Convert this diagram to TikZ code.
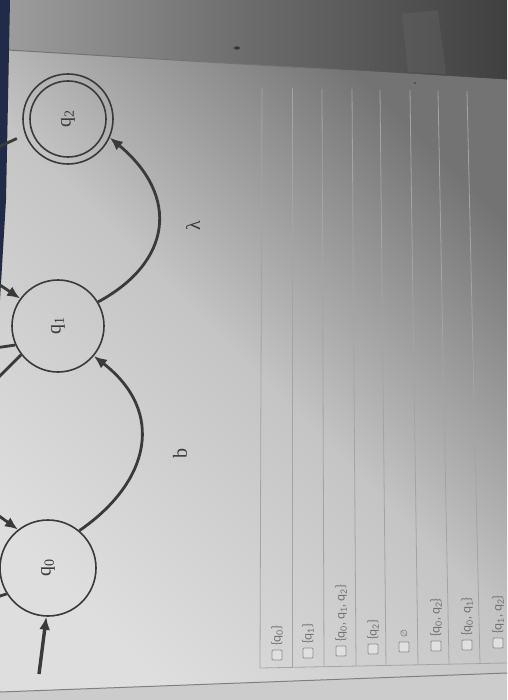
\documentclass[tikz,border=0pt]{standalone}
\usepackage{fontspec}
\setmainfont{Liberation Serif}
\newfontfamily\optfont{Lato}
\newfontfamily\symfont{DejaVu Sans}
\usetikzlibrary{arrows.meta}
\definecolor{ink}{HTML}{3A3A3A}
\definecolor{stripblue}{HTML}{1F2B48}
\definecolor{sepc}{HTML}{A4A4A4}
\definecolor{optc}{HTML}{727272}
\definecolor{boxc}{HTML}{8E8E8E}
\tikzset{
  state/.style={circle, draw=ink, line width=1.6pt, inner sep=0pt, font=\fontsize{20}{22}\selectfont, text=ink},
  edge/.style={draw=ink, line width=2.8pt},
  arr/.style={-{Latex[length=13pt,width=11pt]}},
  lbl/.style={font=\fontsize{20}{22}\selectfont, text=ink, inner sep=0pt},
  cbox/.style={rectangle, draw=boxc, line width=0.9pt, fill=white!88!black, rounded corners=1pt, minimum size=10pt, inner sep=0pt},
  opt/.style={rotate=90, anchor=west, inner sep=0pt, font=\optfont\fontsize{12.5}{14}\selectfont, text=optc},
  sep/.style={draw=sepc, line width=0.8pt}
}
\begin{document}
\begin{tikzpicture}[x=1pt,y=-1pt]
\useasboundingbox (0,0) rectangle (507,700);
\clip (0,0) rectangle (507,700);
% background
\fill[white!80!black] (0,0) rectangle (507,700);
\shade[left color=white!62!black, right color=white!25!black, middle color=white!42!black]
  (0,0) -- (507,0) -- (507,80) -- (8,50) -- (0,50) -- cycle;
\fill[white, opacity=0.05] (402,14) -- (438,10) -- (446,74) -- (408,72) -- cycle;
\shade[top color=white!45!black, bottom color=white!87!black, shading angle=-45, middle color=white!77!black]
  (8,50) -- (507,80) -- (507,673) -- (0,692) -- (0,50) -- cycle;
\fill[white!80!black] (0,692) -- (507,673) -- (507,700) -- (0,700) -- cycle;
\draw[white!45!black, line width=1pt] (8,50) -- (507,80);
\draw[white!50!black, line width=1pt] (0,692) -- (507,673);
\fill[stripblue] (0,0) -- (10,0) -- (6,200) -- (0,300) -- cycle;
\fill[white!20!black] (237,48) ellipse (3 and 1.6);
\fill[white!30!black] (415,83) ellipse (1.5 and 1);
% row separators
\draw[sep] (262,88) -- (260,668);
\draw[sep] (292,88) -- (292,667);
\draw[sep] (322,89) -- (324,667);
\draw[sep] (352,89) -- (356,666);
\draw[sep] (380,90) -- (386,666);
\draw[sep] (410,90) -- (418,665);
\draw[sep] (438,91) -- (449,664);
\draw[sep] (467,91) -- (480,664);
\draw[sep] (260,668) -- (507,663);
% options
\node[cbox] (b1) at (277,655) {};
\node[opt] (o1) at (277,646) {\{q\textsubscript{0}\}};
\node[cbox] (b2) at (308,653) {};
\node[opt] (o2) at (308,644) {\{q\textsubscript{1}\}};
\node[cbox] (b3) at (341,651) {};
\node[opt] (o3) at (341,642) {\{q\textsubscript{0}, q\textsubscript{1}, q\textsubscript{2}\}};
\node[cbox] (b4) at (373,649) {};
\node[opt] (o4) at (373,640) {\{q\textsubscript{2}\}};
\node[cbox] (b5) at (404,647) {};
\node[opt] (o5) at (404,638) {{\symfont\fontsize{9}{10}\selectfont ∅}};
\node[cbox] (b6) at (436,646) {};
\node[opt] (o6) at (436,637) {\{q\textsubscript{0}, q\textsubscript{2}\}};
\node[cbox] (b7) at (467,645) {};
\node[opt] (o7) at (467,636) {\{q\textsubscript{0}, q\textsubscript{1}\}};
\node[cbox] (b8) at (498,643) {};
\node[opt] (o8) at (498,634) {\{q\textsubscript{1}, q\textsubscript{2}\}};
% states
\node[state, minimum size=96pt] (q0) at (48,568) {\rotatebox{90}{q\textsubscript{0}}};
\node[state, minimum size=92pt] (q1) at (58,326) {\rotatebox{90}{q\textsubscript{1}}};
\node[state, minimum size=90pt] (q2) at (68,119) {\rotatebox{90}{q\textsubscript{2}}};
\draw[ink, line width=1.6pt] (q2.center) circle (38);
% edges
\draw[edge, arr] (q0.50) .. controls (150,482) and (166,412) .. (q1.320);
\draw[edge, arr] (q1.31) .. controls (172,262) and (180,196) .. (q2.-24);
\node[lbl] (lb) at (180,453) {\rotatebox{90}{b}};
\node[lbl] (ll) at (193,226) {\rotatebox{90}{λ}};
% initial arrow
\coordinate (init) at (39,674);
\draw[edge, line width=3.4pt, arr] (init) -- (q0.268);
% cut-off edges at the left border
\coordinate (e1) at (-12,508);
\coordinate (e2) at (-12,600);
\coordinate (e3) at (-12,277);
\coordinate (e4) at (-12,349);
\coordinate (e5) at (-12,388);
\coordinate (e6) at (-12,152);
\draw[edge, arr] (e1) -- (q0.128);
\draw[edge] (q0.212) -- (e2);
\draw[edge, arr] (e3) -- (q1.144);
\draw[edge] (q1.204) -- (e4);
\draw[edge] (q1.218) -- (e5);
\draw[edge, shorten <=9pt] (q2.200) -- (e6);
\end{tikzpicture}
\end{document}
